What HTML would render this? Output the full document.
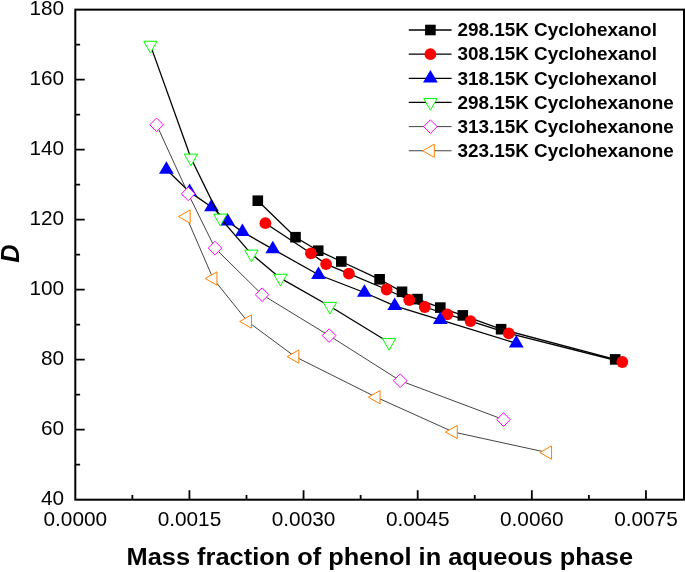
<!DOCTYPE html>
<html lang="en"><head><meta charset="utf-8"><title>Distribution coefficient chart</title>
<style>html,body{margin:0;padding:0;background:#fff}svg{display:block}</style></head>
<body>
<svg width="685" height="572" viewBox="0 0 685 572">
<rect width="685" height="572" fill="#fff"/>
<rect x="75.3" y="9.65" width="608.7" height="490.05" fill="none" stroke="#000" stroke-width="2"/>
<path d="M132.37,499.7 v-4.8 M189.43,499.7 v-9.4 M246.50,499.7 v-4.8 M303.56,499.7 v-9.4 M360.63,499.7 v-4.8 M417.69,499.7 v-9.4 M474.76,499.7 v-4.8 M531.83,499.7 v-9.4 M588.89,499.7 v-4.8 M645.96,499.7 v-9.4 M75.3,464.70 h4.8 M75.3,429.69 h9.4 M75.3,394.69 h4.8 M75.3,359.69 h9.4 M75.3,324.68 h4.8 M75.3,289.68 h9.4 M75.3,254.68 h4.8 M75.3,219.67 h9.4 M75.3,184.67 h4.8 M75.3,149.66 h9.4 M75.3,114.66 h4.8 M75.3,79.66 h9.4 M75.3,44.65 h4.8" stroke="#000" stroke-width="1.8" fill="none"/>
<g font-family="'Liberation Sans', sans-serif" font-size="20.8" fill="#000">
<text x="75.30" y="525.5" text-anchor="middle">0.0000</text>
<text x="189.43" y="525.5" text-anchor="middle">0.0015</text>
<text x="303.56" y="525.5" text-anchor="middle">0.0030</text>
<text x="417.69" y="525.5" text-anchor="middle">0.0045</text>
<text x="531.83" y="525.5" text-anchor="middle">0.0060</text>
<text x="645.96" y="525.5" text-anchor="middle">0.0075</text>
<text x="64.2" y="505.40" text-anchor="end">40</text>
<text x="64.2" y="435.39" text-anchor="end">60</text>
<text x="64.2" y="365.39" text-anchor="end">80</text>
<text x="64.2" y="295.38" text-anchor="end">100</text>
<text x="64.2" y="225.37" text-anchor="end">120</text>
<text x="64.2" y="155.36" text-anchor="end">140</text>
<text x="64.2" y="85.36" text-anchor="end">160</text>
<text x="64.2" y="15.35" text-anchor="end">180</text>
</g>
<text transform="translate(379.8,565.2) scale(1.067,1)" text-anchor="middle" font-family="'Liberation Sans', sans-serif" font-weight="bold" font-size="23.8" fill="#000">Mass fraction of phenol in aqueous phase</text>
<text transform="translate(19.2,253.5) rotate(-90)" text-anchor="middle" font-family="'Liberation Sans', sans-serif" font-weight="bold" font-style="italic" font-size="25.4" fill="#000">D</text>
<polyline points="257.80,200.70 295.50,237.20 318.20,250.70 341.30,261.50 379.60,279.30 402.00,291.80 417.50,299.10 440.30,307.60 462.80,315.40 501.10,329.20 615.20,359.40" fill="none" stroke="#000" stroke-width="1.3"/>
<rect x="252.50" y="195.40" width="10.6" height="10.6" fill="#000"/>
<rect x="290.20" y="231.90" width="10.6" height="10.6" fill="#000"/>
<rect x="312.90" y="245.40" width="10.6" height="10.6" fill="#000"/>
<rect x="336.00" y="256.20" width="10.6" height="10.6" fill="#000"/>
<rect x="374.30" y="274.00" width="10.6" height="10.6" fill="#000"/>
<rect x="396.70" y="286.50" width="10.6" height="10.6" fill="#000"/>
<rect x="412.20" y="293.80" width="10.6" height="10.6" fill="#000"/>
<rect x="435.00" y="302.30" width="10.6" height="10.6" fill="#000"/>
<rect x="457.50" y="310.10" width="10.6" height="10.6" fill="#000"/>
<rect x="495.80" y="323.90" width="10.6" height="10.6" fill="#000"/>
<rect x="609.90" y="354.10" width="10.6" height="10.6" fill="#000"/>
<polyline points="265.40,223.20 310.90,253.30 326.10,264.10 348.90,273.70 386.60,289.50 409.30,300.00 424.80,307.00 447.30,314.40 470.50,321.10 508.80,333.40 622.30,362.00" fill="none" stroke="#000" stroke-width="1.3"/>
<circle cx="265.40" cy="223.20" r="5.9" fill="#f00"/>
<circle cx="310.90" cy="253.30" r="5.9" fill="#f00"/>
<circle cx="326.10" cy="264.10" r="5.9" fill="#f00"/>
<circle cx="348.90" cy="273.70" r="5.9" fill="#f00"/>
<circle cx="386.60" cy="289.50" r="5.9" fill="#f00"/>
<circle cx="409.30" cy="300.00" r="5.9" fill="#f00"/>
<circle cx="424.80" cy="307.00" r="5.9" fill="#f00"/>
<circle cx="447.30" cy="314.40" r="5.9" fill="#f00"/>
<circle cx="470.50" cy="321.10" r="5.9" fill="#f00"/>
<circle cx="508.80" cy="333.40" r="5.9" fill="#f00"/>
<circle cx="622.30" cy="362.00" r="5.9" fill="#f00"/>
<polyline points="166.40,169.48 189.60,191.88 211.50,206.98 227.60,221.28 242.40,231.88 272.80,249.08 318.50,274.78 364.40,292.48 394.70,305.88 440.30,319.88 516.30,343.28" fill="none" stroke="#000" stroke-width="1.3"/>
<polygon points="166.40,161.15 173.80,173.65 159.00,173.65" fill="#00f"/>
<polygon points="189.60,183.55 197.00,196.05 182.20,196.05" fill="#00f"/>
<polygon points="211.50,198.65 218.90,211.15 204.10,211.15" fill="#00f"/>
<polygon points="227.60,212.95 235.00,225.45 220.20,225.45" fill="#00f"/>
<polygon points="242.40,223.55 249.80,236.05 235.00,236.05" fill="#00f"/>
<polygon points="272.80,240.75 280.20,253.25 265.40,253.25" fill="#00f"/>
<polygon points="318.50,266.45 325.90,278.95 311.10,278.95" fill="#00f"/>
<polygon points="364.40,284.15 371.80,296.65 357.00,296.65" fill="#00f"/>
<polygon points="394.70,297.55 402.10,310.05 387.30,310.05" fill="#00f"/>
<polygon points="440.30,311.55 447.70,324.05 432.90,324.05" fill="#00f"/>
<polygon points="516.30,334.95 523.70,347.45 508.90,347.45" fill="#00f"/>
<polyline points="150.40,45.15 190.90,158.05 220.30,218.05 251.40,254.05 280.40,278.15 329.90,306.25 389.10,342.45" fill="none" stroke="#000" stroke-width="1.3"/>
<polygon points="150.40,52.95 157.05,41.25 143.75,41.25" fill="#fff" stroke="#0f0" stroke-width="1.0"/>
<polygon points="190.90,165.85 197.55,154.15 184.25,154.15" fill="#fff" stroke="#0f0" stroke-width="1.0"/>
<polygon points="220.30,225.85 226.95,214.15 213.65,214.15" fill="#fff" stroke="#0f0" stroke-width="1.0"/>
<polygon points="251.40,261.85 258.05,250.15 244.75,250.15" fill="#fff" stroke="#0f0" stroke-width="1.0"/>
<polygon points="280.40,285.95 287.05,274.25 273.75,274.25" fill="#fff" stroke="#0f0" stroke-width="1.0"/>
<polygon points="329.90,314.05 336.55,302.35 323.25,302.35" fill="#fff" stroke="#0f0" stroke-width="1.0"/>
<polygon points="389.10,350.25 395.75,338.55 382.45,338.55" fill="#fff" stroke="#0f0" stroke-width="1.0"/>
<polyline points="156.60,124.80 188.20,193.80 215.00,248.10 262.10,294.70 329.10,335.60 400.20,380.70 503.50,419.60" fill="none" stroke="#222" stroke-width="0.85"/>
<polygon points="156.60,118.00 163.40,124.80 156.60,131.60 149.80,124.80" fill="#fff" stroke="#f0f" stroke-width="1.0"/>
<polygon points="188.20,187.00 195.00,193.80 188.20,200.60 181.40,193.80" fill="#fff" stroke="#f0f" stroke-width="1.0"/>
<polygon points="215.00,241.30 221.80,248.10 215.00,254.90 208.20,248.10" fill="#fff" stroke="#f0f" stroke-width="1.0"/>
<polygon points="262.10,287.90 268.90,294.70 262.10,301.50 255.30,294.70" fill="#fff" stroke="#f0f" stroke-width="1.0"/>
<polygon points="329.10,328.80 335.90,335.60 329.10,342.40 322.30,335.60" fill="#fff" stroke="#f0f" stroke-width="1.0"/>
<polygon points="400.20,373.90 407.00,380.70 400.20,387.50 393.40,380.70" fill="#fff" stroke="#f0f" stroke-width="1.0"/>
<polygon points="503.50,412.80 510.30,419.60 503.50,426.40 496.70,419.60" fill="#fff" stroke="#f0f" stroke-width="1.0"/>
<polyline points="186.25,216.60 213.05,278.50 247.55,321.50 294.95,356.60 376.15,397.20 453.35,432.00 547.65,452.60" fill="none" stroke="#222" stroke-width="0.85"/>
<polygon points="178.45,216.60 190.15,209.95 190.15,223.25" fill="#fff" stroke="#ff8000" stroke-width="1.0"/>
<polygon points="205.25,278.50 216.95,271.85 216.95,285.15" fill="#fff" stroke="#ff8000" stroke-width="1.0"/>
<polygon points="239.75,321.50 251.45,314.85 251.45,328.15" fill="#fff" stroke="#ff8000" stroke-width="1.0"/>
<polygon points="287.15,356.60 298.85,349.95 298.85,363.25" fill="#fff" stroke="#ff8000" stroke-width="1.0"/>
<polygon points="368.35,397.20 380.05,390.55 380.05,403.85" fill="#fff" stroke="#ff8000" stroke-width="1.0"/>
<polygon points="445.55,432.00 457.25,425.35 457.25,438.65" fill="#fff" stroke="#ff8000" stroke-width="1.0"/>
<polygon points="539.85,452.60 551.55,445.95 551.55,459.25" fill="#fff" stroke="#ff8000" stroke-width="1.0"/>
<g font-family="'Liberation Sans', sans-serif" font-weight="bold" font-size="18.9" fill="#000">
<line x1="408.8" x2="451.6" y1="30.00" y2="30.00" stroke="#000" stroke-width="1.3"/>
<rect x="425.10" y="24.70" width="10.6" height="10.6" fill="#000"/>
<text x="457.4" y="36.30">298.15K Cyclohexanol</text>
<line x1="408.8" x2="451.6" y1="54.15" y2="54.15" stroke="#000" stroke-width="1.3"/>
<circle cx="430.40" cy="54.15" r="5.9" fill="#f00"/>
<text x="457.4" y="60.45">308.15K Cyclohexanol</text>
<line x1="408.8" x2="451.6" y1="78.30" y2="78.30" stroke="#000" stroke-width="1.3"/>
<polygon points="430.40,69.97 437.80,82.47 423.00,82.47" fill="#00f"/>
<text x="457.4" y="84.60">318.15K Cyclohexanol</text>
<line x1="408.8" x2="451.6" y1="102.45" y2="102.45" stroke="#000" stroke-width="1.3"/>
<polygon points="430.40,110.25 437.05,98.55 423.75,98.55" fill="#fff" stroke="#0f0" stroke-width="1.0"/>
<text x="457.4" y="108.75">298.15K Cyclohexanone</text>
<line x1="408.8" x2="451.6" y1="126.60" y2="126.60" stroke="#222" stroke-width="0.85"/>
<polygon points="430.40,119.80 437.20,126.60 430.40,133.40 423.60,126.60" fill="#fff" stroke="#f0f" stroke-width="1.0"/>
<text x="457.4" y="132.90">313.15K Cyclohexanone</text>
<line x1="408.8" x2="451.6" y1="150.75" y2="150.75" stroke="#222" stroke-width="0.85"/>
<polygon points="422.60,150.75 434.30,144.10 434.30,157.40" fill="#fff" stroke="#ff8000" stroke-width="1.0"/>
<text x="457.4" y="157.05">323.15K Cyclohexanone</text>
</g>
</svg>
</body></html>
